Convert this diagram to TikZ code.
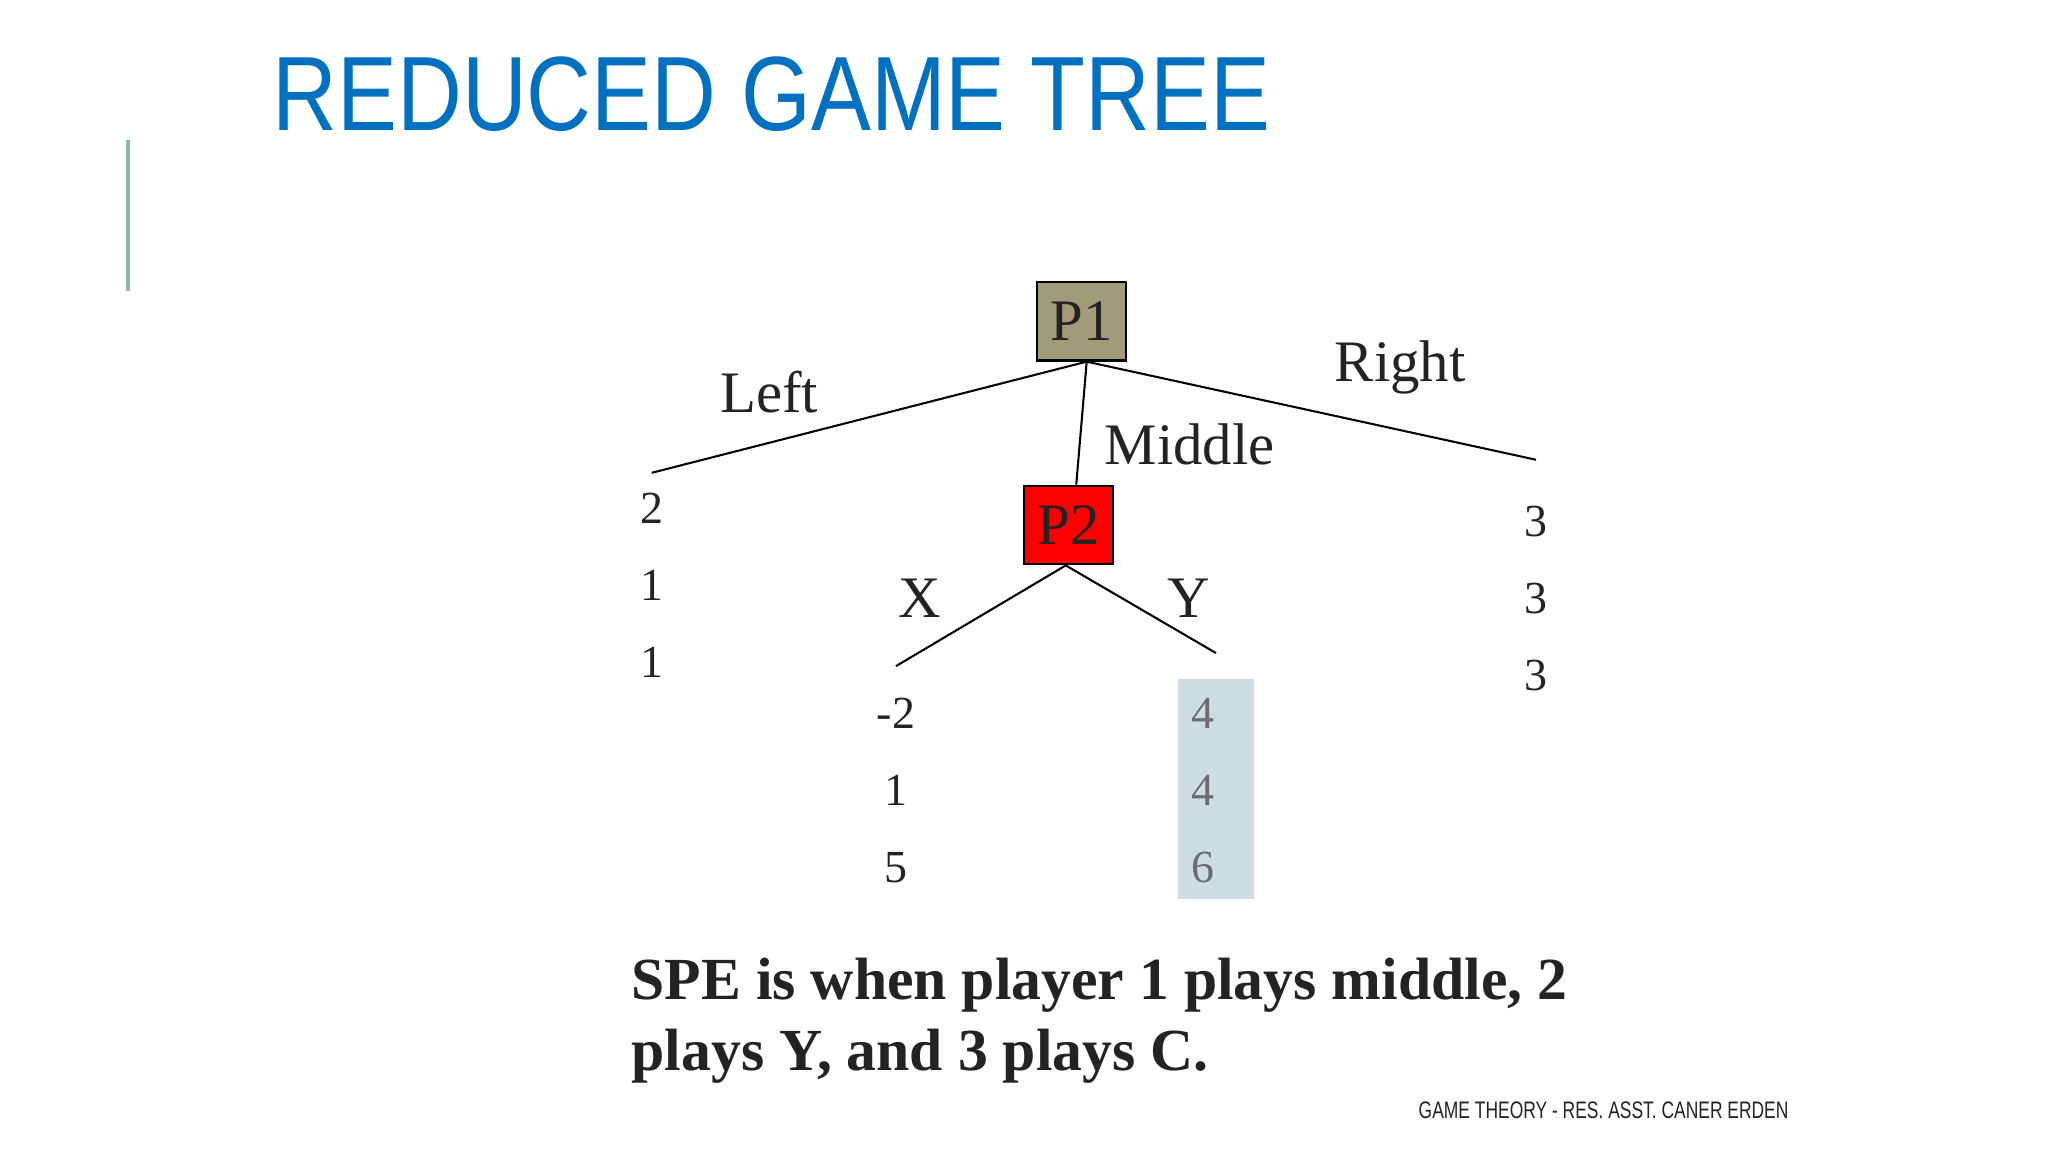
\documentclass[tikz,border=0pt]{standalone}
\usepackage{fontspec}
\usepackage{graphicx}
\setmainfont{Liberation Serif}
\newfontfamily\arialf{Liberation Sans}
\definecolor{titleblue}{RGB}{0,112,192}
\definecolor{boxolive}{RGB}{160,156,122}
\definecolor{hlbox}{RGB}{205,221,225}
\definecolor{barcol}{RGB}{140,185,165}
\definecolor{txt}{RGB}{35,35,35}
\tikzset{
  px/.style={x=0.01cm,y=-0.01cm},
  plyr/.style={draw=black,line width=0.5pt,minimum width=0.68cm,minimum height=0.6cm,inner sep=0pt,font=\fontsize{12.8}{14}\selectfont,text=txt},
  lbl/.style={font=\fontsize{12.8}{14}\selectfont,text=txt,inner sep=0pt},
  pay/.style={font=\fontsize{10}{12}\selectfont,text=txt,inner sep=0pt},
  edge/.style={draw=black,line width=0.45pt}
}
\begin{document}
\begin{tikzpicture}[px]
\useasboundingbox (0,0) rectangle (1568,882);
\fill[white] (0,0) rectangle (1568,882);
\node[anchor=base west,text=titleblue,inner sep=0pt,font=\arialf\fontsize{23}{26}\selectfont] (title) at (208,100) {\scalebox{0.85}[1]{REDUCED GAME TREE}};
\draw[barcol,line width=0.7pt] (98,107) -- (98,223);
\fill[hlbox] (902,520) rectangle (960,688);
\node[plyr,fill=boxolive] (p1) at (828,246) {P1};
\node[plyr,fill=red] (p2) at (818,402) {P2};
\coordinate (lend) at (499,362);
\coordinate (rend) at (1176,352);
\coordinate (xend) at (686,510);
\coordinate (yend) at (931,500);
\draw[edge] ([xshift=0.04cm]p1.south) -- (lend);
\draw[edge] ([xshift=0.04cm]p1.south) -- ([xshift=0.06cm]p2.north);
\draw[edge] ([xshift=0.04cm]p1.south) -- (rend);
\draw[edge] ([xshift=-0.02cm]p2.south) -- (xend);
\draw[edge] ([xshift=-0.02cm]p2.south) -- (yend);
\node[lbl] (left) at (589,300) {Left};
\node[lbl] (mid) at (911,340) {Middle};
\node[lbl] (right) at (1072,281) {Right};
\node[lbl] (xl) at (704,458) {X};
\node[lbl] (yl) at (910,458) {Y};
\node[pay] (l1) at (499,389) {2};
\node[pay] (l2) at (499,448) {1};
\node[pay] (l3) at (499,507) {1};
\node[pay] (r1) at (1176,399) {3};
\node[pay] (r2) at (1176,458) {3};
\node[pay] (r3) at (1176,517) {3};
\node[pay] (x1) at (686,546) {-2};
\node[pay] (x2) at (686,605) {1};
\node[pay] (x3) at (686,664) {5};
\node[pay,text=gray!85!black] (y1) at (921,546) {4};
\node[pay,text=gray!85!black] (y2) at (921,605) {4};
\node[pay,text=gray!85!black] (y3) at (921,664) {6};
\node[anchor=north west,align=left,inner sep=0pt,text=txt,font=\bfseries\fontsize{13}{15.5}\selectfont] (spe) at (483,733) {SPE is when player 1 plays middle, 2\\plays Y, and 3 plays C.};
\node[anchor=base east,inner sep=0pt,text=txt,font=\arialf\fontsize{5.2}{6}\selectfont] (foot) at (1370,856) {\scalebox{0.73}[1]{GAME THEORY - RES. ASST. CANER ERDEN}};
\end{tikzpicture}
\end{document}
